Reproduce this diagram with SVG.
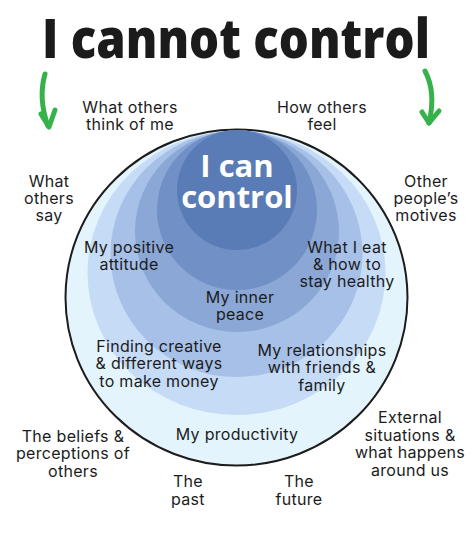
<svg xmlns="http://www.w3.org/2000/svg" width="474" height="542" viewBox="0 0 474 542">
<style>
  .t { font-family: Inter, "Noto Sans", "Liberation Sans", sans-serif; font-size: 16px; fill: #1c1c1c; text-anchor: middle; letter-spacing: 0.3px; }
  .title { font-family: "Open Sans", "Noto Sans", "Liberation Sans", sans-serif; font-weight: 800; font-size: 54px; fill: #1b1b1b; text-anchor: middle; }
  .can { font-family: "Open Sans", "Noto Sans", "Liberation Sans", sans-serif; font-weight: 700; font-size: 31px; fill: #ffffff; text-anchor: middle; }
  .arrow { fill: none; stroke: #36b24a; stroke-width: 5; stroke-linecap: round; stroke-linejoin: round; }
</style>
<rect width="474" height="542" fill="#ffffff"/>
<g id="title">
  <text class="title" x="236" y="58" textLength="388" lengthAdjust="spacingAndGlyphs">I cannot control</text>
</g>
<g id="connectors">
  <path class="arrow" d="M45,74 C41,88 40,104 48,126"/>
  <path class="arrow" d="M41,114 L49,127 L55,110"/>
  <path class="arrow" d="M425,71 C433,86 434,102 429,123"/>
  <path class="arrow" d="M422,112 L429,123 L439,111"/>
</g>
<g id="circles">
  <ellipse id="layer6" cx="236.5" cy="297.5" rx="171" ry="168" fill="#e3f4fc" stroke="#1c1c1c" stroke-width="2"/>
  <ellipse id="layer5" cx="236.5" cy="273" rx="149" ry="142" fill="#c6dbf5"/>
  <ellipse id="layer4" cx="236.5" cy="254" rx="126" ry="123" fill="#a6c0e8"/>
  <ellipse id="layer3" cx="237" cy="231.5" rx="102" ry="100.5" fill="#8aa7d5"/>
  <circle id="layer2" cx="237" cy="210" r="80" fill="#7090c6"/>
  <circle id="layer1" cx="237" cy="190" r="60" fill="#597bb6"/>
</g>
<g id="node-can">
  <text class="can" x="237" y="177">I can</text>
  <text class="can" x="237" y="208">control</text>
</g>
<g id="node-think">
  <text class="t" x="130" y="113">What others</text>
  <text class="t" x="130" y="130">think of me</text>
</g>
<g id="node-feel">
  <text class="t" x="322" y="113">How others</text>
  <text class="t" x="322" y="130">feel</text>
</g>
<g id="node-say">
  <text class="t" x="49" y="187">What</text>
  <text class="t" x="49" y="204">others</text>
  <text class="t" x="49" y="221">say</text>
</g>
<g id="node-motives">
  <text class="t" x="426" y="187">Other</text>
  <text class="t" x="426" y="204">people’s</text>
  <text class="t" x="426" y="221">motives</text>
</g>
<g id="node-attitude">
  <text class="t" x="129" y="253">My positive</text>
  <text class="t" x="129" y="270">attitude</text>
</g>
<g id="node-eat">
  <text class="t" x="347" y="253">What I eat</text>
  <text class="t" x="347" y="270">&amp; how to</text>
  <text class="t" x="347" y="287">stay healthy</text>
</g>
<g id="node-peace">
  <text class="t" x="240" y="303">My inner</text>
  <text class="t" x="240" y="320">peace</text>
</g>
<g id="node-money">
  <text class="t" x="159" y="352">Finding creative</text>
  <text class="t" x="159" y="369">&amp; different ways</text>
  <text class="t" x="159" y="387">to make money</text>
</g>
<g id="node-relationships">
  <text class="t" x="322" y="356">My relationships</text>
  <text class="t" x="322" y="373">with friends &amp;</text>
  <text class="t" x="322" y="391">family</text>
</g>
<g id="node-productivity">
  <text class="t" x="237" y="440">My productivity</text>
</g>
<g id="node-beliefs">
  <text class="t" x="73" y="442">The beliefs &amp;</text>
  <text class="t" x="73" y="459">perceptions of</text>
  <text class="t" x="73" y="477">others</text>
</g>
<g id="node-external">
  <text class="t" x="410" y="423">External</text>
  <text class="t" x="410" y="441">situations &amp;</text>
  <text class="t" x="410" y="458">what happens</text>
  <text class="t" x="410" y="476">around us</text>
</g>
<g id="node-past">
  <text class="t" x="188" y="487">The</text>
  <text class="t" x="188" y="505">past</text>
</g>
<g id="node-future">
  <text class="t" x="299" y="487">The</text>
  <text class="t" x="299" y="505">future</text>
</g>
</svg>
